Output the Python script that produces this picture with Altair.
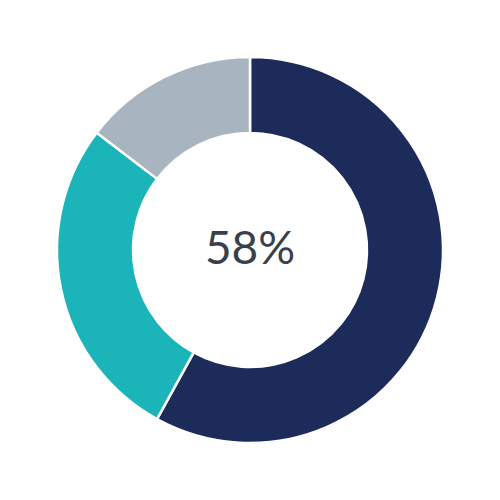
import altair as alt
import pandas as pd

categories = ["A", "B", "C"]
values = [58, 27.4, 14.6]
colors = ["#1c2b5a", "#1bb4b8", "#a9b4c1"]
center_label = ["58%"]

df = pd.DataFrame({"cat": categories, "value": values, "order": [0, 1, 2]})

arcs = alt.Chart(df).mark_arc(
    innerRadius=117, outerRadius=193, stroke="white", strokeWidth=2.5
).encode(
    theta=alt.Theta("value:Q", stack=True),
    order=alt.Order("order:Q"),
    color=alt.Color("cat:N", scale=alt.Scale(domain=categories, range=colors), legend=None),
)

text = alt.Chart(pd.DataFrame({"t": center_label})).mark_text(
    font="Lato", fontSize=46, color="#3a4049", baseline="middle", align="center"
).encode(
    text="t:N",
    x=alt.value(242),
    y=alt.value(242),
)

chart = alt.layer(arcs, text).properties(
    width=484, height=484, padding=0, autosize=alt.AutoSizeParams(type="none")
).configure_view(stroke=None)

chart.save("out.html", embed_options={"renderer": "svg", "actions": False})
